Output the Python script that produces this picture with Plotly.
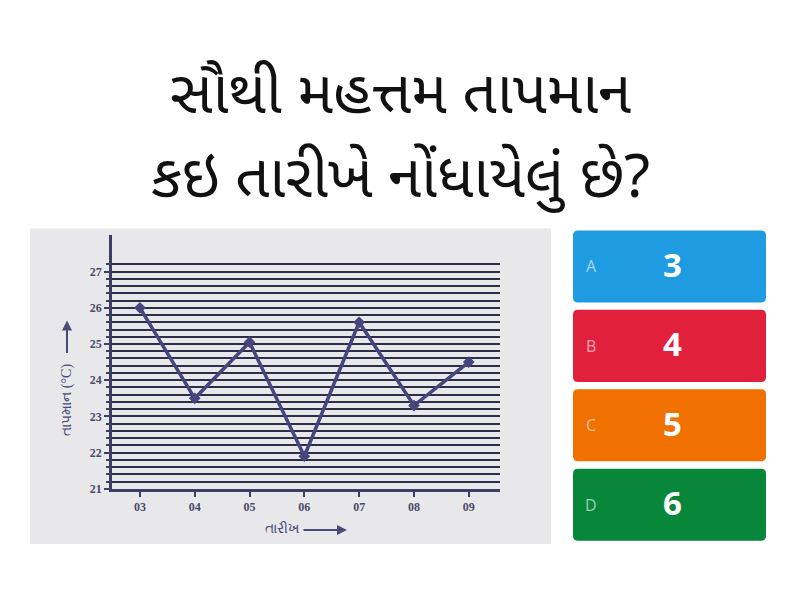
import plotly.graph_objects as go

dates = ["03", "04", "05", "06", "07", "08", "09"]
temps = [26.0, 23.5, 25.05, 21.9, 25.6, 23.3, 24.5]
y_ticks = [21, 22, 23, 24, 25, 26, 27]
grid_lines = [round(21 + 0.2 * i, 1) for i in range(32)]

title_lines = ["સૌથી મહત્તમ તાપમાન", "કઇ તારીખે નોંધાયેલું છે?"]
answer_letters = ["A", "B", "C", "D"]
answer_values = ["3", "4", "5", "6"]
answer_colors = ["#1e9be1", "#e1203b", "#f07000", "#08873b"]

W, H = 800, 600
FIG_H = 608  # page is squeezed a little vertically when photographed
INK = "#3d3d66"
LABEL = "#4a4a7a"


def px_x(v):
    return v / W


def px_y(v):
    return 1 - v / H


def rounded_rect(x0, y0, x1, y1, r=5):
    # pixel box -> paper path with rounded corners
    rx, ry = r / W, r / H
    a, b, c, d = px_x(x0), px_y(y1), px_x(x1), px_y(y0)
    return (f"M{a + rx},{b} L{c - rx},{b} Q{c},{b} {c},{b + ry} "
            f"L{c},{d - ry} Q{c},{d} {c - rx},{d} L{a + rx},{d} "
            f"Q{a},{d} {a},{d - ry} L{a},{b + ry} Q{a},{b} {a + rx},{b} Z")


x_pos = list(range(3, 3 + len(dates)))

fig = go.Figure()
fig.add_trace(go.Scatter(
    x=x_pos, y=temps, mode="lines+markers",
    line=dict(color="#46467e", width=3.5),
    marker=dict(symbol="diamond", size=9, color="#46467e"),
    hoverinfo="skip",
))

shapes = []
# the photo background
shapes.append(dict(type="rect", xref="paper", yref="paper",
                   x0=px_x(30), x1=px_x(551), y0=px_y(543), y1=px_y(228),
                   fillcolor="#e8e8ea", line=dict(width=0), layer="below"))

annotations = []
for i, line in enumerate(title_lines):
    annotations.append(dict(
        text=line, xref="paper", yref="paper", x=0.5, y=px_y(98 + i * 84),
        showarrow=False, xanchor="center", yanchor="middle",
        font=dict(size=60, color="#111111", family="Noto Sans Gujarati, Noto Sans, sans-serif"),
    ))

for i, (letter, val, col) in enumerate(zip(answer_letters, answer_values, answer_colors)):
    top = 230 + i * 79.3
    shapes.append(dict(type="path", xref="paper", yref="paper",
                       path=rounded_rect(573, top, 766, top + 72),
                       fillcolor=col, line=dict(width=0)))
    annotations.append(dict(
        text=letter, xref="paper", yref="paper", x=px_x(591), y=px_y(top + 36),
        showarrow=False, xanchor="center", yanchor="middle",
        font=dict(size=16, color="rgba(255,255,255,0.6)", family="Open Sans"),
    ))
    annotations.append(dict(
        text=f"<b>{val}</b>", xref="paper", yref="paper", x=px_x(672), y=px_y(top + 34),
        showarrow=False, xanchor="center", yanchor="middle",
        font=dict(size=33, color="white", family="Open Sans"),
    ))

# axis titles of the photographed chart, each with its long arrow
annotations.append(dict(
    text="તાપમાન (°C)", xref="paper", yref="paper", x=px_x(67), y=px_y(399),
    showarrow=False, textangle=-90, xanchor="center", yanchor="middle",
    font=dict(size=14, color=LABEL, family="Liberation Serif"),
))
annotations.append(dict(
    text="", xref="paper", yref="paper", x=px_x(67), y=px_y(320),
    showarrow=True, ax=0, ay=34, arrowhead=2, arrowsize=1, arrowwidth=2,
    arrowcolor=LABEL,
))
annotations.append(dict(
    text="તારીખ", xref="paper", yref="paper", x=px_x(282), y=px_y(528),
    showarrow=False, xanchor="center", yanchor="middle",
    font=dict(size=14, color=LABEL, family="Liberation Serif"),
))
annotations.append(dict(
    text="", xref="paper", yref="paper", x=px_x(347), y=px_y(529),
    showarrow=True, ax=-45, ay=0, arrowhead=2, arrowsize=1, arrowwidth=2,
    arrowcolor=LABEL,
))

fig.update_layout(
    width=W, height=FIG_H,
    margin=dict(l=0, r=0, t=0, b=0),
    paper_bgcolor="white",
    plot_bgcolor="rgba(0,0,0,0)",
    showlegend=False,
    shapes=shapes,
    annotations=annotations,
    xaxis=dict(
        domain=[px_x(112), px_x(500)], range=[2.49, 9.57],
        tickvals=x_pos, ticktext=[f"<b>{d}</b>" for d in dates],
        ticks="outside", ticklen=5, tickcolor=INK, tickwidth=2,
        tickfont=dict(size=12, color="#4a4a6a", family="Liberation Serif"),
        showgrid=False, zeroline=False, showline=True, linecolor=INK, linewidth=2.5,
    ),
    yaxis=dict(
        domain=[px_y(488), px_y(235)], range=[21, 28],
        tickvals=y_ticks, ticktext=[f"<b>{t}</b>" for t in y_ticks],
        ticks="outside", ticklen=5, tickcolor=INK, tickwidth=2,
        tickfont=dict(size=12, color="#4a4a6a", family="Liberation Serif"),
        showgrid=True, gridcolor="#2e2e48", gridwidth=2.4,
        minor=dict(tickvals=grid_lines, showgrid=True, gridcolor="#2e2e48", gridwidth=2.4,
                   ticks="outside", ticklen=3, tickcolor=INK, tickwidth=1.5),
        zeroline=False, showline=True, linecolor=INK, linewidth=2.5,
    ),
)

fig.write_html(
    "out.html",
    config={"displayModeBar": False},
    post_script="document.body.style.margin='0';"
                "document.body.style.overflow='hidden';"
                "document.documentElement.style.overflow='hidden';",
)
